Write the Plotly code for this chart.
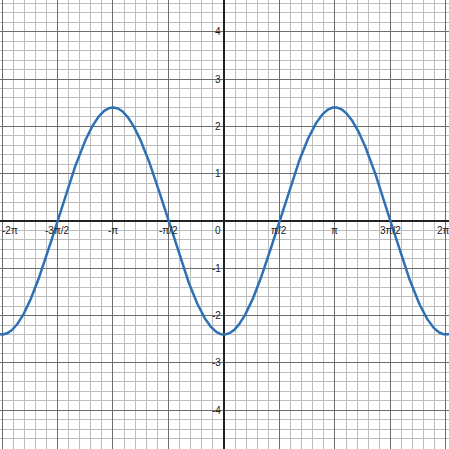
import numpy as np
import plotly.graph_objects as go

# Function: y = -A*cos(x)
amplitude = 2.4
x_min, x_max = -2 * np.pi - 0.1, 2 * np.pi + 0.1

x_tick_vals = [k * np.pi / 2 for k in range(-4, 5)]
x_tick_text = ["-2π", "-3π/2", "-π", "-π/2", "0", "π/2", "π", "3π/2", "2π"]
y_tick_vals = [-4, -3, -2, -1, 1, 2, 3, 4]
y_tick_text = ["-4", "-3", "-2", "-1", "1", "2", "3", "4"]

xs = np.linspace(x_min, x_max, 1200)
ys = -amplitude * np.cos(xs)

fig = go.Figure()
fig.add_trace(go.Scatter(x=xs, y=ys, mode="lines",
                         line=dict(color="#2d70b3", width=2.5),
                         hoverinfo="skip", showlegend=False))

major_col = "#6e6e6e"
minor_col = "#bdbdbd"

fig.update_xaxes(range=[-6.34, 6.37], tick0=0, dtick=np.pi / 2,
                 showgrid=True, gridcolor=major_col, gridwidth=1,
                 minor=dict(tick0=0, dtick=np.pi / 10, showgrid=True,
                            gridcolor=minor_col, gridwidth=1),
                 showticklabels=False, ticks="",
                 zeroline=True, zerolinecolor="#222222", zerolinewidth=1.5,
                 showline=False, fixedrange=True)
fig.update_yaxes(range=[-4.82, 4.67], tick0=0, dtick=1,
                 showgrid=True, gridcolor=major_col, gridwidth=1,
                 minor=dict(tick0=0, dtick=0.2, showgrid=True,
                            gridcolor=minor_col, gridwidth=1),
                 showticklabels=False, ticks="",
                 zeroline=True, zerolinecolor="#222222", zerolinewidth=1.5,
                 showline=False, fixedrange=True)

label_font = dict(family="Liberation Sans, Arial, sans-serif", size=10, color="#222222")
annotations = []
for v, t in zip(x_tick_vals, x_tick_text):
    if t == "0":
        annotations.append(dict(x=v, y=0, text=t, showarrow=False, xanchor="right",
                                yanchor="top", xshift=-1, yshift=-2, font=label_font))
    elif t == "-2π":
        annotations.append(dict(x=v, y=0, text=t, showarrow=False, xanchor="left",
                                yanchor="top", xshift=-2, yshift=-2, font=label_font))
    elif t == "2π":
        annotations.append(dict(x=v, y=0, text=t, showarrow=False, xanchor="right",
                                yanchor="top", xshift=6, yshift=-2, font=label_font))
    else:
        annotations.append(dict(x=v, y=0, text=t, showarrow=False, xanchor="center",
                                yanchor="top", yshift=-2, font=label_font))
for v, t in zip(y_tick_vals, y_tick_text):
    annotations.append(dict(x=0, y=v, text=t, showarrow=False, xanchor="right",
                            yanchor="middle", xshift=-1, font=label_font))

fig.update_layout(width=449, height=449, margin=dict(l=0, r=0, t=0, b=0),
                  paper_bgcolor="white", plot_bgcolor="white",
                  annotations=annotations, showlegend=False)

fig.write_html("out.html", config={"displayModeBar": False},
               post_script="document.body.style.margin='0';document.body.style.overflow='hidden';")
